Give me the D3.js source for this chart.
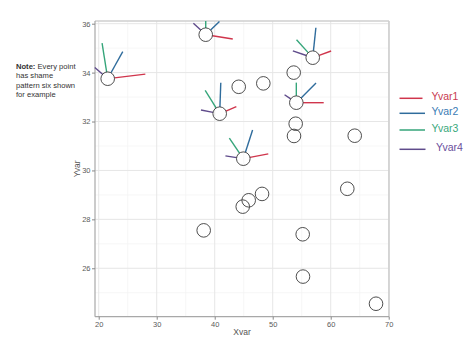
<!DOCTYPE html>
<html>
<head>
<meta charset="utf-8">
<script src="https://cdn.jsdelivr.net/npm/d3@7"></script>
<style>
  html, body { margin: 0; padding: 0; background: #fff; }
  svg { display: block; }
</style>
</head>
<body>
<svg id="chart" width="474" height="355"></svg>
<script>
// ---- data ----
const xVals = [21.55, 38.45, 40.86, 44.14, 48.38, 56.9, 53.62, 54.07, 53.96, 53.67, 64.14, 44.93, 62.86, 48.16, 45.86, 44.83, 38.1, 55.17, 55.22, 67.81];
const yVals = [33.75, 35.55, 32.32, 33.42, 33.56, 34.61, 34.0, 32.77, 31.91, 31.41, 31.42, 30.48, 29.25, 29.04, 28.78, 28.52, 27.55, 27.39, 25.66, 24.55];
const xTicks = [20, 30, 40, 50, 60, 70];
const yTicks = [26, 28, 30, 32, 34, 36];
const seriesNames = ["Yvar1", "Yvar2", "Yvar3", "Yvar4"];
// glyph points (index into xVals/yVals) with direction (deg) and magnitude (y units) per series
const glyphIdx = [0, 1, 2, 7, 5, 11];
const glyphAngle = [
  [7, 61, 99, 139],
  [-9, 44, 90, 137],
  [23, 88, 122, 169],
  [0, 45, 90, 146],
  [20, 84, 132, 161],
  [11, 72, 124, 171]
];
const glyphMag = [
  [1.55, 1.27, 1.47, 0.70],
  [1.12, 0.78, 0.56, 0.69],
  [0.74, 1.27, 1.12, 0.78],
  [1.12, 1.14, 0.82, 0.58],
  [0.80, 1.23, 0.99, 0.86],
  [1.04, 1.23, 1.02, 0.74]
];
const noteLines = ["Every point", "has shame", "pattern six shown", "for example"];

// ---- styles ----
const lineColors = ["#d0354c", "#2f6c9c", "#35a57a", "#5f4b8b"];
const textColors = ["#c83a50", "#3b7cb4", "#3aa87c", "#6a4e9c"];
const font = "'Liberation Sans', Arial, sans-serif";

const svg = d3.select("#chart");
svg.append("rect").attr("width", 474).attr("height", 355).attr("fill", "#fff");

const L = 95, R = 389, T = 21, B = 316.7;
const x = d3.scaleLinear().domain([19.36, 70.05]).range([L, R]);
const y = d3.scaleLinear().domain([24.02, 36.11]).range([B, T]);
const pxPerY = y(0) - y(1);
const rad = 6.8;

// grid
const g = svg.append("g");
const xMinor = d3.range(25, 70, 10);
const yMinor = d3.range(25, 36, 2);
g.selectAll(".xm").data(xMinor).join("line")
  .attr("x1", d => x(d)).attr("x2", d => x(d)).attr("y1", T).attr("y2", B)
  .attr("stroke", "#f4f4f4").attr("stroke-width", 0.8);
g.selectAll(".ym").data(yMinor).join("line")
  .attr("y1", d => y(d)).attr("y2", d => y(d)).attr("x1", L).attr("x2", R)
  .attr("stroke", "#f4f4f4").attr("stroke-width", 0.8);
g.selectAll(".xg").data(xTicks).join("line")
  .attr("x1", d => x(d)).attr("x2", d => x(d)).attr("y1", T).attr("y2", B)
  .attr("stroke", "#e6e6e6").attr("stroke-width", 1);
g.selectAll(".yg").data(yTicks).join("line")
  .attr("y1", d => y(d)).attr("y2", d => y(d)).attr("x1", L).attr("x2", R)
  .attr("stroke", "#e6e6e6").attr("stroke-width", 1);

// panel border (top/right lighter)
svg.append("line").attr("x1", L).attr("x2", R).attr("y1", T).attr("y2", T).attr("stroke", "#cfcfcf").attr("stroke-width", 1.6);
svg.append("line").attr("x1", R).attr("x2", R).attr("y1", T).attr("y2", B).attr("stroke", "#cfcfcf").attr("stroke-width", 1.6);

// axes
const xAxis = d3.axisBottom(x).tickValues(xTicks).tickSize(3).tickPadding(2).tickSizeOuter(0);
const yAxis = d3.axisLeft(y).tickValues(yTicks).tickSize(3).tickPadding(1.5).tickSizeOuter(0);
const gx = svg.append("g").attr("transform", `translate(0,${B})`).call(xAxis);
const gy = svg.append("g").attr("transform", `translate(${L},0)`).call(yAxis);
[gx, gy].forEach(a => {
  a.select(".domain").attr("stroke", "#a8a8a8").attr("stroke-width", 1.2);
  a.selectAll(".tick line").attr("stroke", "#888");
  a.selectAll(".tick text").attr("fill", "#5a5a5a").attr("font-size", 7.5).attr("font-family", font);
});
gy.select(".domain").attr("d", `M0,${T}V${B}`);
gx.select(".domain").attr("d", `M${L},0H${R}`);

// axis titles
svg.append("text").attr("x", (L + R) / 2).attr("y", 335).attr("text-anchor", "middle")
  .attr("font-family", font).attr("font-size", 8.5).attr("fill", "#555").text("Xvar");
svg.append("text").attr("transform", `translate(80,${(T + B) / 2}) rotate(-90)`).attr("text-anchor", "middle")
  .attr("font-family", font).attr("font-size", 8.5).attr("fill", "#555").text("Yvar");

// glyph segments
const segs = [];
glyphIdx.forEach((pi, gi) => {
  seriesNames.forEach((s, si) => {
    segs.push({ cx: x(xVals[pi]), cy: y(yVals[pi]), a: glyphAngle[gi][si] * Math.PI / 180,
      len: glyphMag[gi][si] * pxPerY, c: lineColors[si] });
  });
});
svg.append("g").selectAll("line").data(segs).join("line")
  .attr("x1", d => d.cx + Math.cos(d.a) * rad)
  .attr("y1", d => d.cy - Math.sin(d.a) * rad)
  .attr("x2", d => d.cx + Math.cos(d.a) * d.len)
  .attr("y2", d => d.cy - Math.sin(d.a) * d.len)
  .attr("stroke", d => d.c).attr("stroke-width", 1.4);

// points
svg.append("g").selectAll("circle").data(xVals.map((v, i) => [v, yVals[i]])).join("circle")
  .attr("cx", d => x(d[0])).attr("cy", d => y(d[1])).attr("r", rad)
  .attr("fill", "none").attr("stroke", "#3a3a3a").attr("stroke-width", 0.9);

// note
const note = svg.append("text").attr("font-family", font).attr("font-size", 7.6).attr("fill", "#333");
noteLines.forEach((t, i) => {
  const ts = note.append("tspan").attr("x", 16).attr("y", 68.5 + i * 9.5);
  if (i === 0) {
    ts.append("tspan").attr("font-weight", "bold").text("Note: ");
    ts.append("tspan").text(t);
  } else ts.text(t);
});

// legend
const legY = [98.3, 113.3, 130, 149.3];
const legTextX = [431.5, 431.5, 431.5, 436];
const legLineEnd = [422.5, 425, 425, 425.5];
const leg = svg.append("g");
seriesNames.forEach((s, i) => {
  leg.append("line").attr("x1", 399.5).attr("x2", legLineEnd[i]).attr("y1", legY[i]).attr("y2", legY[i])
    .attr("stroke", lineColors[i]).attr("stroke-width", 1.5);
  leg.append("text").attr("x", legTextX[i]).attr("y", legY[i] + 1.6).attr("font-family", font)
    .attr("font-size", 10.5).attr("fill", textColors[i]).text(s);
});
</script>
</body>
</html>
